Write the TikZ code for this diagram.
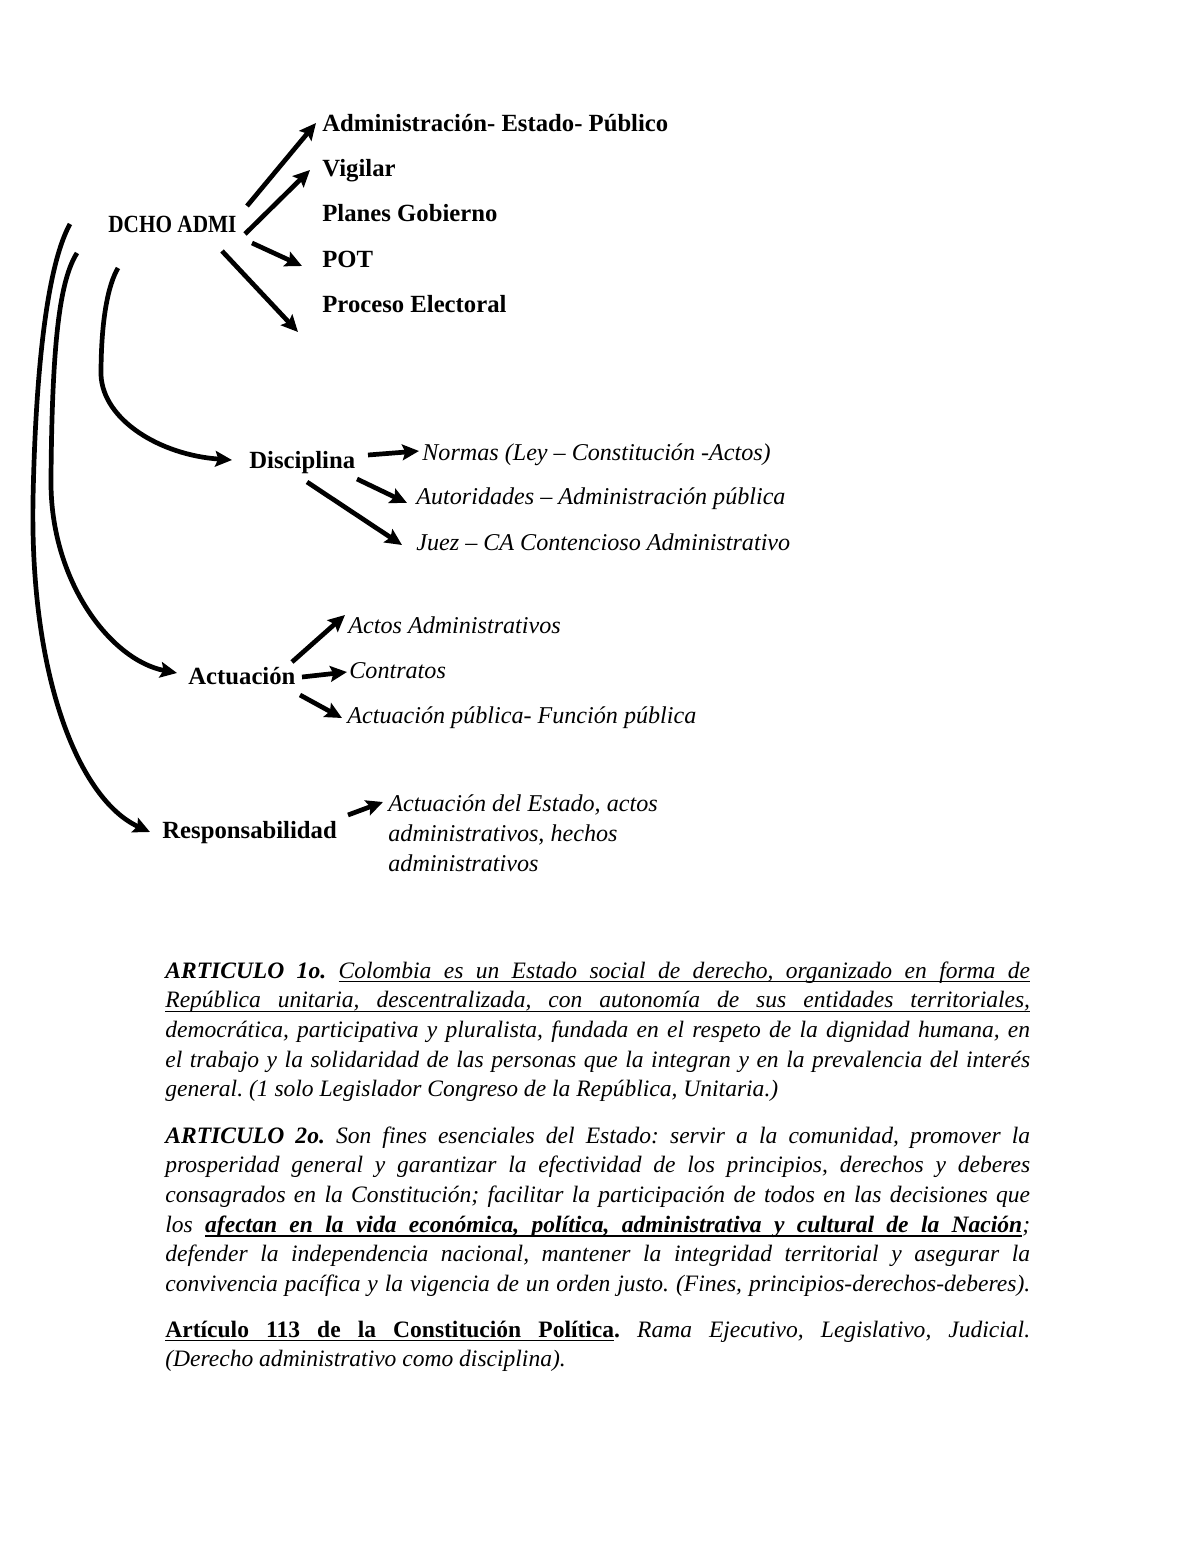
\documentclass[tikz,border=0pt]{standalone}
\usepackage{fontspec}
\setmainfont{Liberation Serif}
\usetikzlibrary{arrows.meta,calc}

\newlength\pw \setlength\pw{441pt}
\newbox\ulbox
\def\ulr{\vrule height -1.5pt depth 2.25pt}
\def\ulword#1{\setbox\ulbox\hbox{#1}\rlap{\ulr width\wd\ulbox}\box\ulbox}
\def\ulspace{\leaders\ulr\hskip\fontdimen2\font plus\fontdimen3\font minus\fontdimen4\font}
\def\ulw#1{\ulloop#1 \ulend}
\def\ulloop#1 #2\ulend{\ulword{#1}\ifx\relax#2\relax\else\ulspace\ulloop#2\ulend\fi}
\def\jl#1{\hbox to\pw{#1}}
\def\nl#1{\hbox{#1}}

\tikzset{
  lbl/.style={anchor=base west,inner sep=0pt,font=\fontsize{12.6}{15}\selectfont\bfseries},
  itl/.style={anchor=base west,inner sep=0pt,font=\fontsize{12.3}{15}\selectfont\itshape},
  para/.style={anchor=base west,inner sep=0pt,font=\fontsize{12}{15.15}\selectfont\itshape\frenchspacing},
  arr/.style={line width=2.4pt,-{Stealth[length=8.5pt,width=8pt,inset=1.5pt]}},
}

\begin{document}
\begin{tikzpicture}[x=0.51pt,y=-0.51pt]
\useasboundingbox (0,0) rectangle (1200,1553);

% diagram labels
\node[lbl] (dcho) at (108,233) {\scalebox{0.86}[1]{DCHO ADMI}};
\node[lbl] (adm) at (322,132) {Administración- Estado- Público};
\node[lbl] (vig) at (322,177) {Vigilar};
\node[lbl] (plan) at (322,222) {Planes Gobierno};
\node[lbl] (pot) at (322,267) {POT};
\node[lbl] (proc) at (322,312) {Proceso Electoral};

\node[lbl] (disc) at (249,468) {Disciplina};
\node[itl] (norm) at (422,460) {Normas (Ley – Constitución -Actos)};
\node[itl] (aut) at (416,504) {Autoridades – Administración pública};
\node[itl] (juez) at (416,550) {Juez – CA Contencioso Administrativo};

\node[lbl] (act) at (188,684) {Actuación};
\node[itl] (actos) at (348,633) {Actos Administrativos};
\node[itl] (contr) at (349,678) {Contratos};
\node[itl] (apub) at (347,723) {Actuación pública- Función pública};

\node[lbl] (resp) at (162,838) {Responsabilidad};
\node[itl] (rtxt) at (388,811) {\vtop{\baselineskip=15.3pt
  \nl{Actuación del Estado, actos}
  \nl{administrativos, hechos}
  \nl{administrativos}}};

% start points
\coordinate (s1) at (247,206);
\coordinate (s2) at (245,234);
\coordinate (s3) at (252,243);
\coordinate (s4) at (222,251);
\coordinate (sc) at (118,268);
\coordinate (sb) at (77,253);
\coordinate (sa) at (70,224);
\coordinate (d1) at (368,455);
\coordinate (d2) at (357,479);
\coordinate (d3) at (307,482);
\coordinate (t1) at (292,662);
\coordinate (t2) at (302,677);
\coordinate (t3) at (300,695);
\coordinate (r1) at (348,815);

% arrows from DCHO ADMI
\draw[arr] (s1) -- ($(adm.base west)+(-6,-9)$);
\draw[arr] (s2) -- ($(vig.base west)+(-12,-7)$);
\draw[arr] (s3) -- ($(pot.base west)+(-20,-1)$);
\draw[arr] (s4) -- ($(proc.base west)+(-24,20)$);

% curved arrows
\draw[arr] (sc) .. controls (108,285) and (101,320) .. (101,375)
  .. controls (103,420) and (160,455) .. ($(disc.base west)+(-17,-8)$);
\draw[arr] (sb) .. controls (60,280) and (52,340) .. (51,480)
  .. controls (50,580) and (110,660) .. ($(act.base west)+(-11,-11)$);
\draw[arr] (sa) .. controls (50,260) and (36,350) .. (33,500)
  .. controls (30,680) and (80,800) .. ($(resp.base west)+(-12,-6)$);

% Disciplina
\draw[arr] (d1) -- ($(norm.base west)+(-3,-9)$);
\draw[arr] (d2) -- ($(aut.base west)+(-9,-1)$);
\draw[arr] (d3) -- ($(juez.base west)+(-14,-5)$);

% Actuacion
\draw[arr] (t1) -- ($(actos.base west)+(-3,-18)$);
\draw[arr] (t2) -- ($(contr.base west)+(-2,-6)$);
\draw[arr] (t3) -- ($(apub.base west)+(-5,-5)$);

% Responsabilidad
\draw[arr] (r1) -- ($(rtxt.base west)+(-5,-9)$);

% paragraphs
\node[para] (p1) at (165,978) {\vtop{\baselineskip=15.15pt
  \jl{{\bfseries ARTICULO 1o.} \ulw{Colombia es un Estado social de derecho, organizado en forma de}}
  \jl{\ulw{República unitaria, descentralizada, con autonomía de sus entidades territoriales,}}
  \jl{democrática, participativa y pluralista, fundada en el respeto de la dignidad humana, en}
  \jl{el trabajo y la solidaridad de las personas que la integran y en la prevalencia del interés}
  \nl{general. (1 solo Legislador Congreso de la República, Unitaria.)}}};

\node[para] (p2) at (165,1143) {\vtop{\baselineskip=15.15pt
  \jl{{\bfseries ARTICULO 2o.} Son fines esenciales del Estado: servir a la comunidad, promover la}
  \jl{prosperidad general y garantizar la efectividad de los principios, derechos y deberes}
  \jl{consagrados en la Constitución; facilitar la participación de todos en las decisiones que}
  \jl{los {\bfseries\ulw{afectan en la vida económica, política, administrativa y cultural de la Nación}};}
  \jl{defender la independencia nacional, mantener la integridad territorial y asegurar la}
  \jl{convivencia pacífica y la vigencia de un orden justo. (Fines, principios-derechos-deberes).}}};

\node[para] (p3) at (165,1337) {\vtop{\baselineskip=15.15pt
  \jl{{\upshape\bfseries\ulw{Artículo 113 de la Constitución Política}.} Rama Ejecutivo, Legislativo, Judicial.}
  \nl{(Derecho administrativo como disciplina).}}};

\end{tikzpicture}
\end{document}
